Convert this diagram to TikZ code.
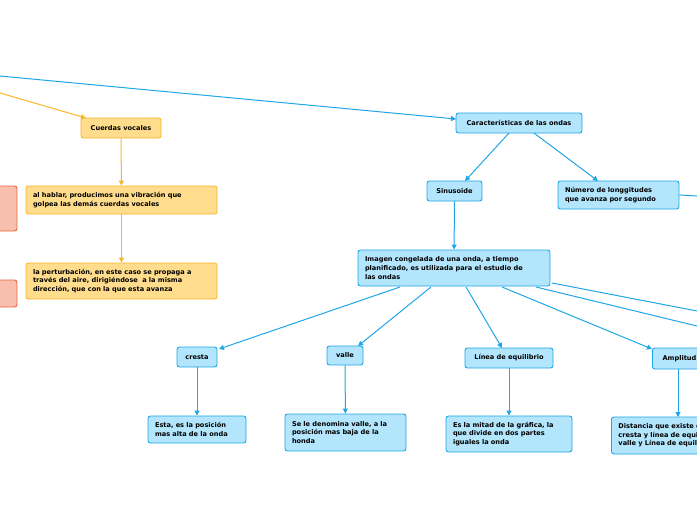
\documentclass[tikz,border=0pt]{standalone}
\usepackage{fontspec}
\setmainfont{DejaVu Sans}
\usetikzlibrary{arrows.meta}
\definecolor{bfill}{HTML}{B3E5FC}
\definecolor{bline}{HTML}{1FA6E6}
\definecolor{ofill}{HTML}{FFDD8C}
\definecolor{oline}{HTML}{F7B52A}
\definecolor{sfill}{HTML}{F9BFAE}
\definecolor{sline}{HTML}{E8643F}
\tikzset{
  box/.style={draw=bline,fill=bfill,line width=0.9pt,rounded corners=2.5pt,font=\fontsize{6.6}{8.6}\selectfont\bfseries,inner xsep=7pt,inner ysep=5pt,align=left},
  obox/.style={box,draw=oline,fill=ofill},
  sbox/.style={box,draw=sline,fill=sfill},
  bl/.style={draw=bline,line width=1pt,-{Triangle[length=5pt,width=5pt]}},
  ol/.style={draw=oline,line width=1pt,-{Triangle[length=5pt,width=5pt]}},
  bp/.style={draw=bline,line width=1pt},
}
\begin{document}
\begin{tikzpicture}[x=1pt,y=-1pt]
\useasboundingbox (0,0) rectangle (697,520);
\clip (0,0) rectangle (697,520);
% orange
\node[obox,minimum width=80pt,minimum height=20pt,align=center] (cv) at (121,128) {Cuerdas vocales};
\node[obox,minimum width=191pt,minimum height=28pt,text width=177pt] (ah) at (121.5,200) {al hablar, producimos una vibración que\\golpea las demás cuerdas vocales};
\node[obox,minimum width=191pt,minimum height=36pt,text width=177pt] (pe) at (121.5,281) {la perturbación, en este caso se propaga a\\través del aire, dirigiéndose\ \ a la misma\\dirección, que con la que esta avanza};
% salmon (cut)
\node[sbox,minimum width=60pt,minimum height=45pt] (s1) at (-13,208.5) {};
\node[sbox,minimum width=60pt,minimum height=27pt] (s2) at (-13,293.5) {};
% blue
\node[box,minimum width=126pt,minimum height=20pt,align=center] (car) at (519,123) {Características de las ondas};
\node[box,minimum width=55pt,minimum height=20pt,align=center] (sin) at (454.5,191) {Sinusoide};
\node[box,minimum width=121pt,minimum height=28pt,text width=107pt] (num) at (618.5,195) {Número de longgitudes\\que avanza por segundo};
\node[box,minimum width=192pt,minimum height=36pt,text width=178pt] (img) at (454,268) {Imagen congelada de una onda, a tiempo\\planificado, es utilizada para el estudio de\\las ondas};
\node[box,minimum width=40pt,minimum height=20pt,align=center] (cre) at (197,357) {cresta};
\node[box,minimum width=36pt,minimum height=19pt,align=center] (val) at (345,355.5) {valle};
\node[box,minimum width=88pt,minimum height=20pt,align=center] (lin) at (509,358) {Línea de equilibrio};
\node[box,minimum width=54pt,minimum height=21pt,anchor=west] (amp) at (652,358.5) {Amplitud};
\node[box,minimum width=98pt,minimum height=27pt,text width=84pt] (est) at (197,429.5) {Esta, es la posición\\mas alta de la onda};
\node[box,minimum width=121pt,minimum height=37pt,text width=107pt] (sev) at (345.5,432.5) {Se le denomina valle, a la\\posición mas baja de la\\honda};
\node[box,minimum width=126pt,minimum height=36pt,text width=112pt] (esm) at (509,434) {Es la mitad de la gráfica, la\\que divide en dos partes\\iguales la onda};
\node[box,minimum height=37pt,text width=130pt,anchor=west] (dis) at (611,435.5) {Distancia que existe entre\\cresta y línea de equilibrio,\\valle y Línea de equilibrio};
% off-canvas anchors
\coordinate (o1) at (0,76);
\coordinate (o2) at (0,93);
\coordinate (o3) at (697,196);
\coordinate (o4) at (697,311);
\coordinate (o5) at (697,326);
\coordinate (cin) at (456,119);
% connectors
\draw[bl] (o1) -- (cin);
\draw[ol] (o2) -- (86,118);
\draw[ol] (cv) -- (ah);
\draw[ol] (ah) -- (pe);
\draw[bl] (509,133) -- (465,181);
\draw[bl] (534,133) -- (598,181);
\draw[bl] (sin) -- (img);
\draw[bp] (num.east) -- (o3);
\draw[bl] (400,287) -- (219,349);
\draw[bl] (431,287) -- (358,346);
\draw[bl] (466,287) -- (502,348);
\draw[bl] (502,287) -- (652,349);
\draw[bp] (536,287) -- (o5);
\draw[bp] (552,283) -- (o4);
\draw[bl] (cre) -- (est);
\draw[bl] (val) -- (sev);
\draw[bl] (lin) -- (esm);
\draw[bl] (678,369) -- (678,417);
\end{tikzpicture}
\end{document}
